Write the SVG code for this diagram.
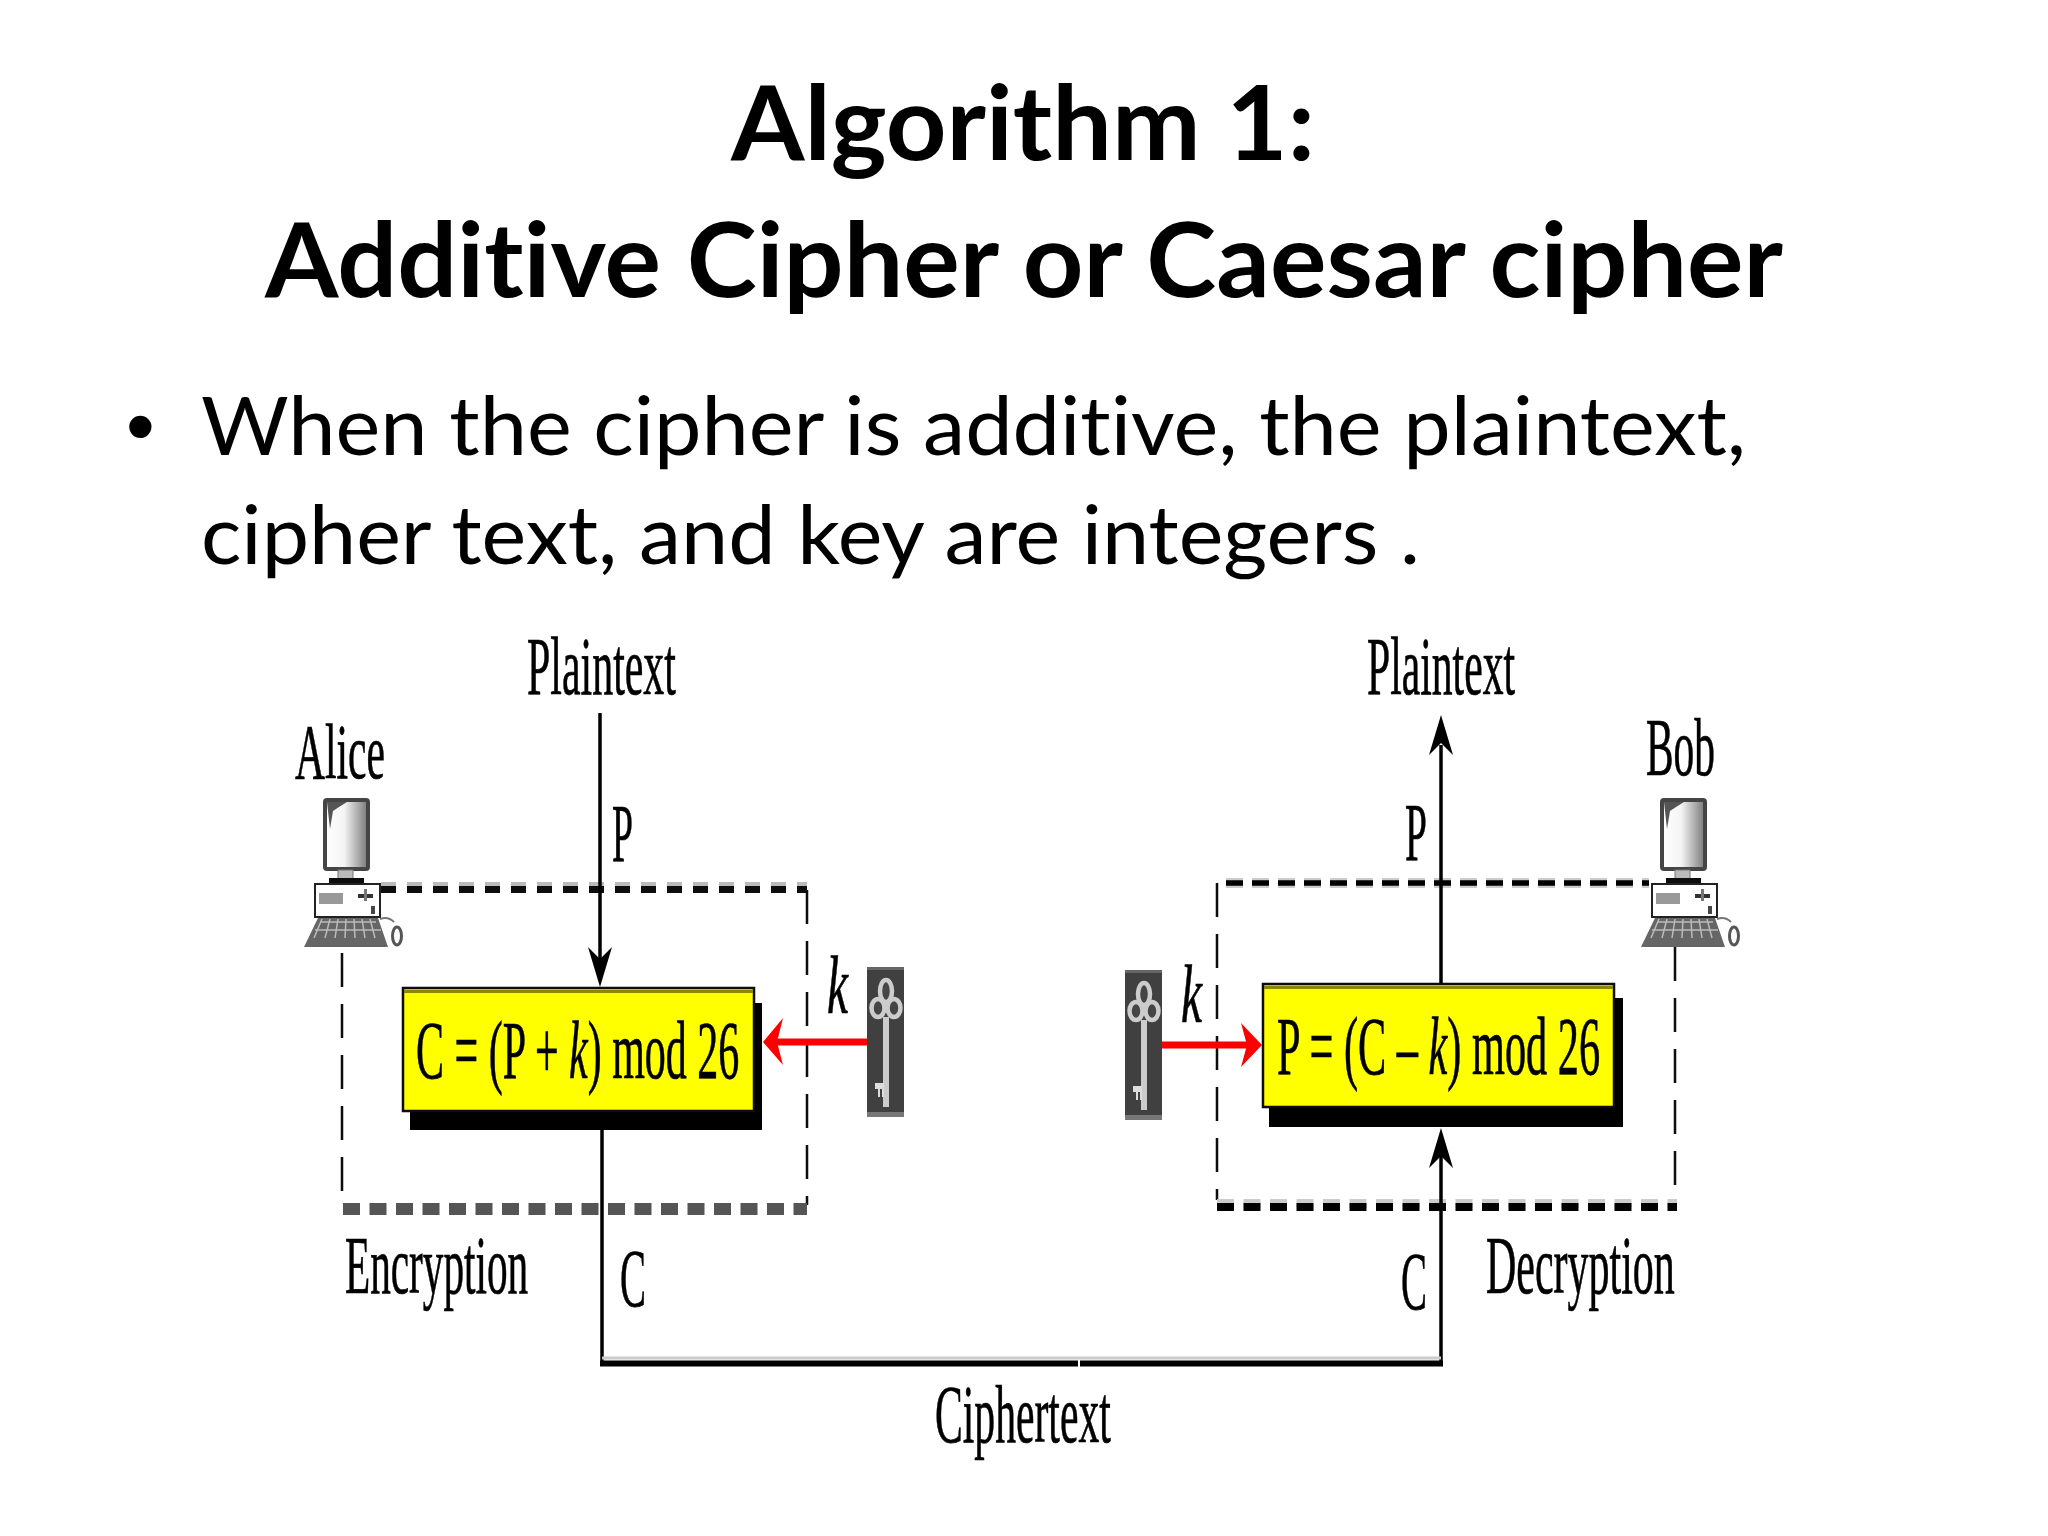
<svg xmlns="http://www.w3.org/2000/svg" xmlns:xlink="http://www.w3.org/1999/xlink" width="2048" height="1536" viewBox="0 0 2048 1536">
<style>
.h{font-family:"Lato","Liberation Sans",sans-serif;font-weight:700;font-size:104px;fill:#000;font-variant-ligatures:none}
.b{font-family:"Lato","Liberation Sans",sans-serif;font-size:82px;fill:#000;font-variant-ligatures:none}
.dot{font-family:"Liberation Sans",sans-serif;font-size:82px;fill:#000}
.s{font-family:"Liberation Serif","Times New Roman",serif;fill:#000;stroke:#000;stroke-width:.7}
.t{font-size:82px}
.i{font-style:italic}
.main{stroke:#000;fill:none;stroke-width:3.5}
.red{stroke:#f00;stroke-width:7;fill:none}
.thin{stroke:#111;stroke-width:2.5;fill:none;stroke-dasharray:34 17}
</style>
<defs>
<filter id="soft" x="-5%" y="-5%" width="110%" height="110%"><feGaussianBlur stdDeviation="0.6"/></filter>
<linearGradient id="scr" x1="0" x2="1" y1="0" y2="0"><stop offset="0" stop-color="#fff"/><stop offset="0.45" stop-color="#f4f4f4"/><stop offset="1" stop-color="#777"/></linearGradient>
<g id="computer">
<rect x="325" y="800" width="43" height="69" rx="2" fill="url(#scr)" stroke="#444" stroke-width="4"/>
<path d="M327 802h20l-8 5-6 4-3 18z" fill="#555"/>
<rect x="338" y="870" width="15" height="9" fill="#bbb" stroke="#777"/>
<rect x="329" y="878" width="35" height="6" fill="#111"/>
<rect x="315" y="884" width="65" height="33" fill="#fff" stroke="#222" stroke-width="2"/>
<rect x="319" y="893" width="24" height="11" fill="#999"/>
<rect x="358" y="894" width="15" height="4" fill="#333"/><rect x="364" y="889" width="3" height="12" fill="#777"/>
<rect x="371" y="906" width="4" height="8" fill="#444"/>
<path d="M318 918H378L388 947H304Z" fill="#666"/>
<path d="M320 922H376M315 930H381M322 919l-8 19M330 919l-5 19M338 919l-3 19M346 919l-1 19M354 919l1 19M362 919l3 19M370 919l5 19" stroke="#bbb" stroke-width="1.500" fill="none"/>
<path d="M380 919q8-3 14 3" stroke="#777" stroke-width="2" fill="none"/>
<ellipse cx="397" cy="936" rx="4.500" ry="9" fill="#fff" stroke="#555" stroke-width="3"/>
</g>
<g id="key">
<rect width="37" height="150" fill="#404040"/>
<rect y="145" width="37" height="5" fill="#777"/>
<rect y="0" width="37" height="3" fill="#666"/>
<g fill="#444" stroke="#ccc" stroke-width="4.500"><ellipse cx="19" cy="24" rx="6" ry="11"/><ellipse cx="11" cy="41" rx="6.500" ry="9"/><ellipse cx="27" cy="41" rx="6.500" ry="9"/></g>
<rect x="16" y="50" width="6" height="90" fill="#ccc"/>
<path d="M8 116h9v14h-2v-8h-2v8h-2v-8h-3z" fill="#ddd"/>
</g>
<path id="headDown" d="M0 0L-12-40L0-28L12-40Z" fill="#000"/>
</defs>

<g id="title">
<text class="h" x="731" y="160" textLength="584" lengthAdjust="spacingAndGlyphs">Algorithm 1:</text>
<text class="h" x="265" y="297" textLength="1518" lengthAdjust="spacingAndGlyphs">Additive Cipher or Caesar cipher</text>
</g>
<g id="body">
<text class="dot" x="126" y="454">•</text>
<text class="b" x="201" y="455" textLength="1545" lengthAdjust="spacingAndGlyphs">When the cipher is additive, the plaintext,</text>
<text class="b" x="201" y="564" textLength="1219" lengthAdjust="spacingAndGlyphs">cipher text, and key are integers .</text>
</g>

<g id="diagram" filter="url(#soft)">
<g id="connectors">
<g id="boundary-enc">
<path d="M381 886H807" stroke="#bbb" stroke-width="8" stroke-dasharray="15 11" fill="none"/>
<path d="M381 889.500H807" stroke="#111" stroke-width="7" stroke-dasharray="15 11" fill="none"/>
<path class="thin" d="M807 890V1205"/>
<path class="thin" d="M342 953V1205"/>
<path d="M343 1209H807" stroke="#555" stroke-width="12" stroke-dasharray="17 9.500" fill="none"/>
</g>
<g id="boundary-dec">
<path d="M1226 883H1649" stroke="#ccc" stroke-width="10" stroke-dasharray="17 9" fill="none"/>
<path d="M1226 883H1649" stroke="#000" stroke-width="5.500" stroke-dasharray="17 9" fill="none"/>
<path class="thin" d="M1217 883V1200"/>
<path class="thin" d="M1675 947V1200"/>
<path d="M1217 1203H1677" stroke="#ccc" stroke-width="8" stroke-dasharray="17 9.500" fill="none"/>
<path d="M1217 1207H1677" stroke="#000" stroke-width="8" stroke-dasharray="17 9.500" fill="none"/>
</g>
<path class="main" d="M600 713V970"/>
<use xlink:href="#headDown" href="#headDown" transform="translate(600 987)"/>
<path class="main" d="M1441 983V745"/>
<use xlink:href="#headDown" href="#headDown" transform="translate(1441 715) rotate(180)"/>
<path class="main" d="M602 1125V1362"/>
<path class="main" d="M1441 1362V1150"/>
<use xlink:href="#headDown" href="#headDown" transform="translate(1441 1128) rotate(180)"/>
<path d="M602 1358H1441" stroke="#ccc" stroke-width="3" fill="none"/>
<path d="M600 1363.500H1078M1080 1363.500H1443" stroke="#000" stroke-width="6" fill="none"/>
<path class="red" d="M868 1042H775"/>
<path d="M763 1042L783 1018L777 1042L783 1065Z" fill="#f00"/>
<path class="red" d="M1162 1045H1250"/>
<path d="M1262 1045L1241 1023L1247 1045L1241 1067Z" fill="#f00"/>
</g>

<g id="encrypt-box">
<rect x="410" y="1003" width="352" height="127" fill="#000"/>
<rect x="403" y="988" width="351" height="123" fill="#ff0" stroke="#111" stroke-width="2.500"/>
<rect x="404" y="990" width="349" height="3" fill="#8a8a00"/>
<text class="s t" transform="translate(416 1078) scale(.512 1)">C = (P + <tspan class="i">k</tspan>) mod 26</text>
</g>
<g id="decrypt-box">
<rect x="1269" y="998" width="354" height="129" fill="#000"/>
<rect x="1263" y="984" width="351" height="123" fill="#ff0" stroke="#111" stroke-width="2.500"/>
<rect x="1264" y="986" width="349" height="3" fill="#8a8a00"/>
<text class="s t" transform="translate(1277 1074) scale(.516 1)">P = (C – <tspan class="i">k</tspan>) mod 26</text>
</g>
<g id="alice">
<use xlink:href="#computer" href="#computer"/>
<text class="s" font-size="78" transform="translate(295 778) scale(.533 1)">Alice</text>
</g>
<g id="bob">
<use xlink:href="#computer" href="#computer" transform="translate(1337 0)"/>
<text class="s" font-size="82" transform="translate(1646 775) scale(.505 1)">Bob</text>
</g>
<g id="key-left"><use xlink:href="#key" href="#key" transform="translate(867 967)"/></g>
<g id="key-right"><use xlink:href="#key" href="#key" transform="translate(1125 970)"/></g>
<g id="labels">
<text class="s t" transform="translate(527 694) scale(.511 1)">Plaintext</text>
<text class="s t" transform="translate(1367 694) scale(.508 1)">Plaintext</text>
<text class="s t" transform="translate(612 861) scale(.46 1)">P</text>
<text class="s t" transform="translate(1405 860) scale(.48 1)">P</text>
<text class="s t i" transform="translate(827 1013) scale(.577 1)">k</text>
<text class="s t i" transform="translate(1181 1022) scale(.577 1)">k</text>
<text class="s t" transform="translate(345 1293) scale(.503 1)">Encryption</text>
<text class="s t" transform="translate(1486 1293) scale(.512 1)">Decryption</text>
<text class="s t" transform="translate(620 1306) scale(.475 1)">C</text>
<text class="s t" transform="translate(1401 1309) scale(.475 1)">C</text>
<text class="s t" transform="translate(935 1442) scale(.508 1)">Ciphertext</text>
</g>
</g>
</svg>
